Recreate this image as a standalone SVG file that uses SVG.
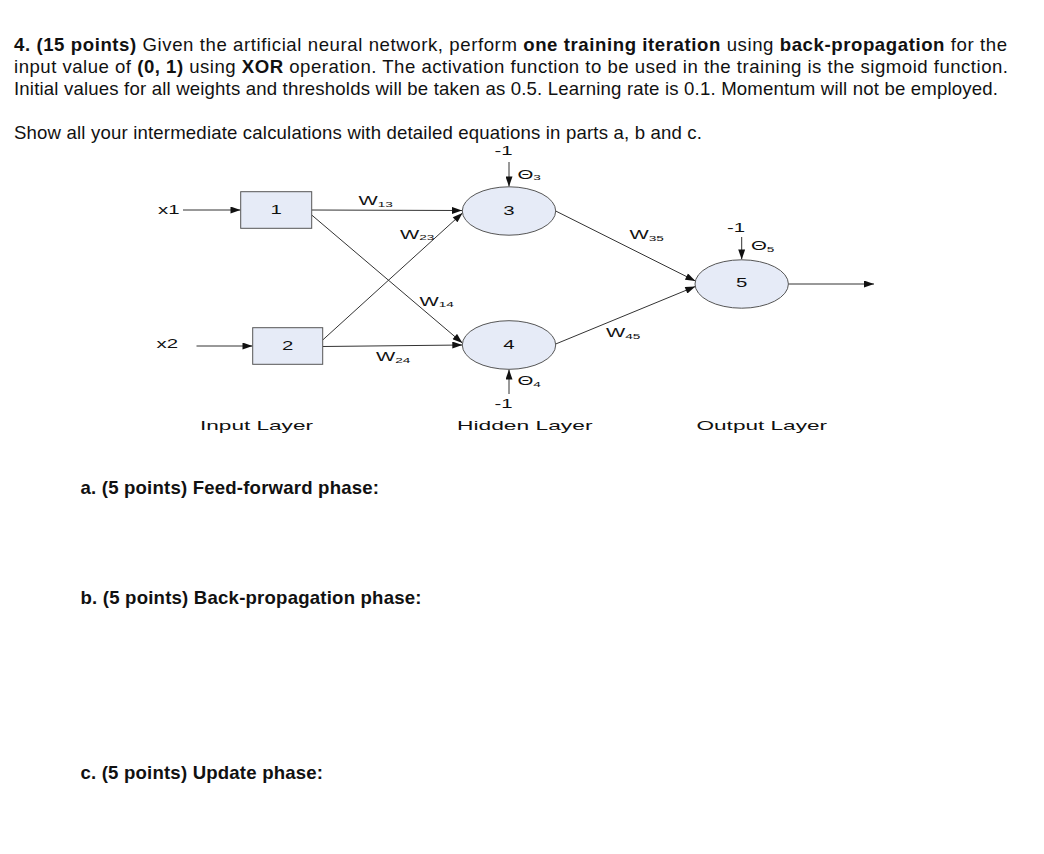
<svg xmlns="http://www.w3.org/2000/svg" width="1044" height="854" viewBox="0 0 1044 854">
<style>
.q{font-family:"Liberation Sans",Arial,sans-serif;font-size:18.6px;fill:#111}
.b{font-weight:bold}
.d{font-family:"Liberation Sans",Arial,sans-serif;font-size:12px;fill:#111}
.l{font-family:"Liberation Sans",Arial,sans-serif;font-size:13px;fill:#111}
.node{fill:#e6ebf7;stroke:#555;stroke-width:1}
.edge{stroke:#333;stroke-width:1;fill:none;marker-end:url(#ah)}
</style>
<defs>
<marker id="ah" viewBox="0 0 10 7" refX="10" refY="3.5" markerWidth="11" markerHeight="7" orient="auto" markerUnits="userSpaceOnUse"><path d="M0,0 L10,3.5 L0,7 z" fill="#111"/></marker>
</defs>
<rect width="1044" height="854" fill="#fff"/>

<g id="question">
<text class="q" x="14" y="50.5" textLength="993" lengthAdjust="spacing"><tspan class="b">4. (15 points)</tspan> Given the artificial neural network, perform <tspan class="b">one training iteration</tspan> using <tspan class="b">back-propagation</tspan> for the</text>
<text class="q" x="14" y="72.5" textLength="994" lengthAdjust="spacing">input value of <tspan class="b">(0, 1)</tspan> using <tspan class="b">XOR</tspan> operation. The activation function to be used in the training is the sigmoid function.</text>
<text class="q" x="14" y="94.5" textLength="984" lengthAdjust="spacing">Initial values for all weights and thresholds will be taken as 0.5. Learning rate is 0.1. Momentum will not be employed.</text>
<text class="q" x="14" y="138.5" textLength="688" lengthAdjust="spacing">Show all your intermediate calculations with detailed equations in parts a, b and c.</text>
</g>

<g id="connectors">
<line class="edge" x1="183" y1="210" x2="240.5" y2="210"/>
<line class="edge" x1="196.5" y1="346" x2="252.5" y2="346"/>
<line class="edge" x1="311.7" y1="210" x2="462" y2="210.5"/>
<line class="edge" x1="311.7" y1="215" x2="462.4" y2="343"/>
<line class="edge" x1="322.7" y1="340" x2="462.5" y2="213"/>
<line class="edge" x1="322.7" y1="346.5" x2="462.3" y2="345"/>
<line class="edge" x1="555.7" y1="211" x2="695.4" y2="281"/>
<line class="edge" x1="555.7" y1="344" x2="695.3" y2="286.5"/>
<line class="edge" x1="788.4" y1="284" x2="874" y2="284"/>
<line class="edge" x1="509" y1="162" x2="509" y2="186.5"/>
<line class="edge" x1="509" y1="394" x2="509" y2="369.5"/>
<line class="edge" x1="741.7" y1="237" x2="741.7" y2="259.5"/>
</g>

<g id="edge-labels">
<text class="d" transform="translate(358.5,205) scale(1.7,1)">W<tspan font-size="8" dy="1.8">13</tspan></text>
<text class="d" transform="translate(400,238.5) scale(1.7,1)">W<tspan font-size="8" dy="1.8">23</tspan></text>
<text class="d" transform="translate(419.5,305.5) scale(1.7,1)">W<tspan font-size="8" dy="1.8">14</tspan></text>
<text class="d" transform="translate(376,361) scale(1.7,1)">W<tspan font-size="8" dy="1.8">24</tspan></text>
<text class="d" transform="translate(629.5,239) scale(1.7,1)">W<tspan font-size="8" dy="1.8">35</tspan></text>
<text class="d" transform="translate(606,337) scale(1.7,1)">W<tspan font-size="8" dy="1.8">45</tspan></text>
</g>

<g id="input-x1"><text class="d" transform="translate(158,214) scale(1.7,1)">x1</text></g>
<g id="input-x2"><text class="d" transform="translate(156.5,347.5) scale(1.7,1)">x2</text></g>

<g id="node1">
<rect class="node" x="240.7" y="191.7" width="71" height="36.6"/>
<text class="d" transform="translate(276.2,214) scale(1.7,1)" text-anchor="middle">1</text>
</g>
<g id="node2">
<rect class="node" x="252.7" y="327.7" width="70" height="36.6"/>
<text class="d" transform="translate(287.7,350) scale(1.7,1)" text-anchor="middle">2</text>
</g>
<g id="node3">
<ellipse class="node" cx="509" cy="211" rx="46.7" ry="24.2"/>
<text class="d" transform="translate(509,214.5) scale(1.7,1)" text-anchor="middle">3</text>
</g>
<g id="node4">
<ellipse class="node" cx="509" cy="345" rx="46.7" ry="24.3"/>
<text class="d" transform="translate(509,348.5) scale(1.7,1)" text-anchor="middle">4</text>
</g>
<g id="node5">
<ellipse class="node" cx="741.7" cy="284" rx="46.7" ry="24.2"/>
<text class="d" transform="translate(741.7,287) scale(1.7,1)" text-anchor="middle">5</text>
</g>

<g id="bias3">
<text class="d" transform="translate(503.5,155) scale(1.7,1)" text-anchor="middle">-1</text>
<text class="d" transform="translate(517.5,178.5) scale(1.7,1)">Θ<tspan font-size="8" dy="1.5">3</tspan></text>
</g>
<g id="bias4">
<text class="d" transform="translate(503.5,407.5) scale(1.7,1)" text-anchor="middle">-1</text>
<text class="d" transform="translate(517.5,385) scale(1.7,1)">Θ<tspan font-size="8" dy="1.5">4</tspan></text>
</g>
<g id="bias5">
<text class="d" transform="translate(736,231.5) scale(1.7,1)" text-anchor="middle">-1</text>
<text class="d" transform="translate(751,250) scale(1.7,1)">Θ<tspan font-size="8" dy="1.5">5</tspan></text>
</g>

<g id="layer-labels">
<text class="l" x="200" y="430" textLength="113" lengthAdjust="spacingAndGlyphs">Input Layer</text>
<text class="l" x="457" y="430" textLength="135.5" lengthAdjust="spacingAndGlyphs">Hidden Layer</text>
<text class="l" x="696.5" y="430" textLength="130.5" lengthAdjust="spacingAndGlyphs">Output Layer</text>
</g>

<g id="parts">
<text class="q b" x="80.5" y="494" textLength="298.5" lengthAdjust="spacing">a. (5 points) Feed-forward phase:</text>
<text class="q b" x="80.5" y="603.5" textLength="341" lengthAdjust="spacing">b. (5 points) Back-propagation phase:</text>
<text class="q b" x="80.5" y="778.5" textLength="242.5" lengthAdjust="spacing">c. (5 points) Update phase:</text>
</g>
</svg>
